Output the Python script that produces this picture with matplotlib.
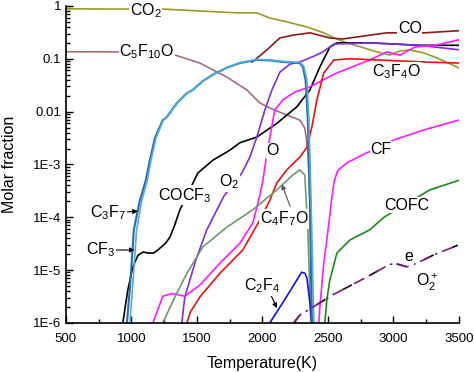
import matplotlib
matplotlib.use('Agg')
import matplotlib.pyplot as plt
from matplotlib.ticker import FixedLocator, FixedFormatter, LogLocator, MultipleLocator, NullFormatter

plt.rcParams['font.family'] = ['Liberation Sans', 'DejaVu Sans']
plt.rcParams['mathtext.fontset'] = 'custom'
plt.rcParams['mathtext.rm'] = 'Liberation Sans'
plt.rcParams['mathtext.default'] = 'regular'

# temperatures (K) and molar fractions
t_co2 = [500, 1250, 1805, 1958, 2057, 2187, 2340, 2469, 2546, 2645, 2744, 2874, 2973, 3050, 3126, 3233, 3332, 3500]
co2 = [0.88, 0.87, 0.74, 0.74, 0.59, 0.50, 0.40, 0.31, 0.25, 0.20, 0.17, 0.135, 0.118, 0.14, 0.147, 0.129, 0.104, 0.067]

t_c5 = [500, 1200, 1332, 1523, 1729, 1882, 1981, 2057, 2187, 2286, 2324, 2347, 2363, 2378]
c5f10o = [0.136, 0.134, 0.118, 0.083, 0.045, 0.0257, 0.0146, 0.0117, 0.0086, 0.0069, 0.0049, 0.0019, 2.1e-4, 1e-6]

t_c3f7 = [966, 990, 1019, 1065, 1110, 1141, 1180, 1240, 1271, 1347, 1424, 1469, 1546, 1622, 1730, 1828, 1958, 2060, 2156,
          2286, 2309, 2330, 2347, 2363, 2378]
c3f7 = [1e-6, 5e-6, 5.8e-5, 2.1e-4, 5e-4, 1.2e-3, 3.2e-3, 6.9e-3, 7.9e-3, 0.0145, 0.0224, 0.0257, 0.038, 0.05, 0.068, 0.083,
        0.095, 0.093, 0.087, 0.083, 0.07, 0.04, 0.0069, 2.1e-4, 1e-6]

t_cf3 = [989, 1010, 1040, 1080, 1122, 1150, 1188, 1245, 1275, 1350, 1426, 1471, 1548, 1624, 1732, 1830, 1960, 2060, 2160,
         2290, 2316, 2340, 2355, 2372, 2393]
cf3 = [1e-6, 5e-6, 5.8e-5, 2.1e-4, 5e-4, 1.2e-3, 3.2e-3, 6.9e-3, 7.9e-3, 0.0145, 0.0224, 0.0257, 0.038, 0.05, 0.068, 0.085,
       0.097, 0.095, 0.089, 0.085, 0.072, 0.04, 0.0069, 2.1e-4, 1e-6]

t_co = [1920, 1943, 2034, 2134, 2233, 2363, 2515, 2614, 2821, 2950, 3240, 3500]
co = [0.087, 0.095, 0.147, 0.248, 0.28, 0.31, 0.248, 0.237, 0.28, 0.31, 0.31, 0.34]

t_o2 = [1385, 1408, 1492, 1576, 1706, 1844, 1905, 1958, 2019, 2073, 2134, 2210, 2286, 2393, 2462, 2546, 2821, 3202, 3500]
o2 = [1e-6, 3.1e-6, 1.55e-5, 5.8e-5, 2.5e-4, 6.9e-4, 1.38e-3, 3.3e-3, 0.0107, 0.0257, 0.056, 0.079, 0.087, 0.112, 0.135,
      0.19, 0.2, 0.18, 0.148]

t_cocf3 = [935, 950, 973, 1011, 1050, 1090, 1126, 1170, 1202, 1260, 1294, 1330, 1370, 1508, 1622, 1752, 1828, 1958, 2111,
           2263, 2363, 2439, 2515, 2569, 2821, 3202, 3500]
cocf3 = [1e-6, 1.8e-6, 4.2e-6, 1.15e-5, 1.9e-5, 2.2e-5, 2.1e-5, 2.1e-5, 2.4e-5, 3.2e-5, 4.2e-5, 7e-5, 1.38e-4, 6.9e-4,
         1.2e-3, 1.86e-3, 2.57e-3, 3.3e-3, 6e-3, 0.0123, 0.0257, 0.07, 0.166, 0.2, 0.2, 0.18, 0.18]

t_o = [1164, 1240, 1309, 1408, 1523, 1676, 1828, 1927, 1981, 2004, 2027, 2057, 2095, 2156, 2248, 2363, 2569, 2821, 2950,
       3050, 3164, 3332, 3500]
o = [1e-6, 3.2e-6, 3.6e-6, 3.2e-6, 5.2e-6, 1.35e-5, 3.2e-5, 7.8e-5, 2.6e-4, 5e-4, 1.2e-3, 3.2e-3, 0.0107, 0.0166, 0.0234,
     0.0295, 0.054, 0.095, 0.135, 0.117, 0.166, 0.182, 0.229]

t_c3f4o = [1424, 1450, 1523, 1676, 1851, 1981, 2057, 2111, 2187, 2286, 2340, 2378, 2416, 2469, 2546, 2668, 3233, 3500]
c3f4o = [1e-6, 1.6e-6, 3.1e-6, 8.7e-6, 2.4e-5, 8.9e-5, 2.1e-4, 4.5e-4, 7.9e-4, 1.38e-3, 2.1e-3, 5.1e-3, 0.0166, 0.054,
         0.095, 0.1, 0.087, 0.083]

t_c4f7o = [1240, 1332, 1424, 1546, 1729, 1927, 2111, 2233, 2286, 2324, 2347, 2370]
c4f7o = [1e-6, 3.1e-6, 8.7e-6, 2.75e-5, 6.5e-5, 1.38e-4, 3.3e-4, 6.3e-4, 7.9e-4, 6.3e-4, 5.8e-5, 1e-6]

t_cf = [2431, 2439, 2469, 2508, 2531, 2550, 2575, 2645, 2798, 3004, 3233, 3500]
cf = [1e-6, 2e-6, 1.35e-5, 7.8e-5, 2.4e-4, 5e-4, 7.6e-4, 1.07e-3, 1.66e-3, 2.9e-3, 4.5e-3, 6.9e-3]

t_cofc = [2477, 2492, 2515, 2569, 2668, 2821, 2928, 3279, 3500]
cofc = [1e-6, 2.7e-6, 6.5e-6, 2.1e-5, 3.7e-5, 5.8e-5, 1e-4, 3.3e-4, 5e-4]

t_c2f4 = [2057, 2180, 2300, 2325, 2340, 2360, 2378]
c2f4 = [1e-6, 3e-6, 9.1e-6, 8.7e-6, 7.1e-6, 2.8e-6, 1e-6]

t_e = [2240, 2286, 2538, 2798, 2973, 3034, 3103, 3179, 3301, 3492]
e_o2p = [1e-6, 1.4e-6, 3.4e-6, 7.4e-6, 1.29e-5, 1.29e-5, 1.15e-5, 1.35e-5, 1.9e-5, 2.95e-5]

ytick_vals = [1e-6, 1e-5, 1e-4, 1e-3, 0.01, 0.1, 1]
ytick_labels = ['1E-6', '1E-5', '1E-4', '1E-3', '0.01', '0.1', '1']

fig = plt.figure(figsize=(4.74, 3.72), dpi=100)
ax = fig.add_axes([0.139, 0.132, 0.829, 0.852])

lw = 1.2
ax.plot(t_co2, co2, color='#9a9a2c', lw=lw)
ax.plot(t_c5, c5f10o, color='#a07272', lw=lw)
ax.plot(t_co, co, color='#8b1a1a', lw=lw)
ax.plot(t_cocf3, cocf3, color='black', lw=lw)
ax.plot(t_o2, o2, color='#7f2fe0', lw=lw)
ax.plot(t_o, o, color='#ff1aff', lw=lw)
ax.plot(t_c3f4o, c3f4o, color='#ee1111', lw=lw)
ax.plot(t_c4f7o, c4f7o, color='#6e9a6e', lw=lw)
ax.plot(t_cf, cf, color='#ff1aff', lw=lw)
ax.plot(t_cofc, cofc, color='#1a8c1a', lw=lw)
ax.plot(t_c2f4, c2f4, color='#1010e0', lw=lw)
ax.plot(t_c3f7, c3f7, color='#2f6aa8', lw=lw + 0.3)
ax.plot(t_cf3, cf3, color='#4aaee0', lw=lw)
ax.plot(t_e, e_o2p, color='black', lw=lw, ls=(0, (6, 12)))
ax.plot(t_e, e_o2p, color='#7a1f7a', lw=lw, ls=(0, (7, 3, 1.5, 3)))

ax.set_yscale('log')
ax.set_xlim(500, 3500)
ax.set_ylim(1e-6, 1)

ax.yaxis.set_major_locator(FixedLocator(ytick_vals))
ax.yaxis.set_major_formatter(FixedFormatter(ytick_labels))
ax.yaxis.set_minor_locator(LogLocator(base=10, subs=range(2, 10)))
ax.yaxis.set_minor_formatter(NullFormatter())
ax.xaxis.set_major_locator(MultipleLocator(500))
ax.xaxis.set_minor_locator(MultipleLocator(250))
ax.tick_params(which='both', direction='in', labelsize=9.5, width=1)
ax.tick_params(which='major', length=5)
ax.tick_params(which='minor', length=3)
ax.tick_params(axis='x', pad=7)
for s in ['top', 'right']:
    ax.spines[s].set_visible(False)
for s in ['left', 'bottom']:
    ax.spines[s].set_linewidth(1.2)

ax.set_xlabel('Temperature(K)', fontsize=11.5)
ax.set_ylabel('Molar fraction', fontsize=11.5)
ax.xaxis.set_label_coords(0.5, -0.105)
ax.yaxis.set_label_coords(-0.125, 0.5)

box = dict(facecolor='white', edgecolor='none', pad=0.5)
fs = 11.5
labels = [
    (r'CO$_2$', 1111, 0.80),
    (r'C$_5$F$_{10}$O', 1118, 0.135),
    ('CO', 3126, 0.38),
    (r'C$_3$F$_4$O', 3019, 0.056),
    ('O', 2080, 1.8e-3),
    ('CF', 2905, 1.95e-3),
    (r'O$_2$', 1744, 4.7e-4),
    (r'COCF$_3$', 1408, 2.6e-4),
    (r'C$_4$F$_7$O', 2164, 9.3e-5),
    ('COFC', 3103, 1.7e-4),
    (r'C$_2$F$_4$', 1996, 5e-6),
    ('e', 3118, 1.78e-5),
    (r'O$_2^+$', 3263, 5.9e-6),
]
for txt, x, y in labels:
    ax.text(x, y, txt, fontsize=fs, ha='center', va='center', bbox=box, zorder=6)

arrow = dict(arrowstyle='-|>', color='black', lw=0.8, mutation_scale=7, shrinkA=0, shrinkB=0)
ax.annotate(r'C$_3$F$_7$', xy=(1050, 1.3e-4), xytext=(821, 1.2e-4), fontsize=fs,
            ha='center', va='center', arrowprops=arrow, bbox=box, zorder=6)
ax.annotate(r'CF$_3$', xy=(1025, 2.4e-5), xytext=(767, 2.4e-5), fontsize=fs,
            ha='center', va='center', arrowprops=arrow, bbox=box, zorder=6)
ax.annotate('', xy=(2149, 4.2e-4), xytext=(2212, 1.6e-4),
            arrowprops=dict(arrowstyle='-|>', color='#555555', lw=0.8, mutation_scale=7, shrinkA=0, shrinkB=0))
ax.annotate('', xy=(2111, 1.9e-6), xytext=(2060, 3.6e-6), arrowprops=arrow)

plt.savefig('out.png', dpi=100)
